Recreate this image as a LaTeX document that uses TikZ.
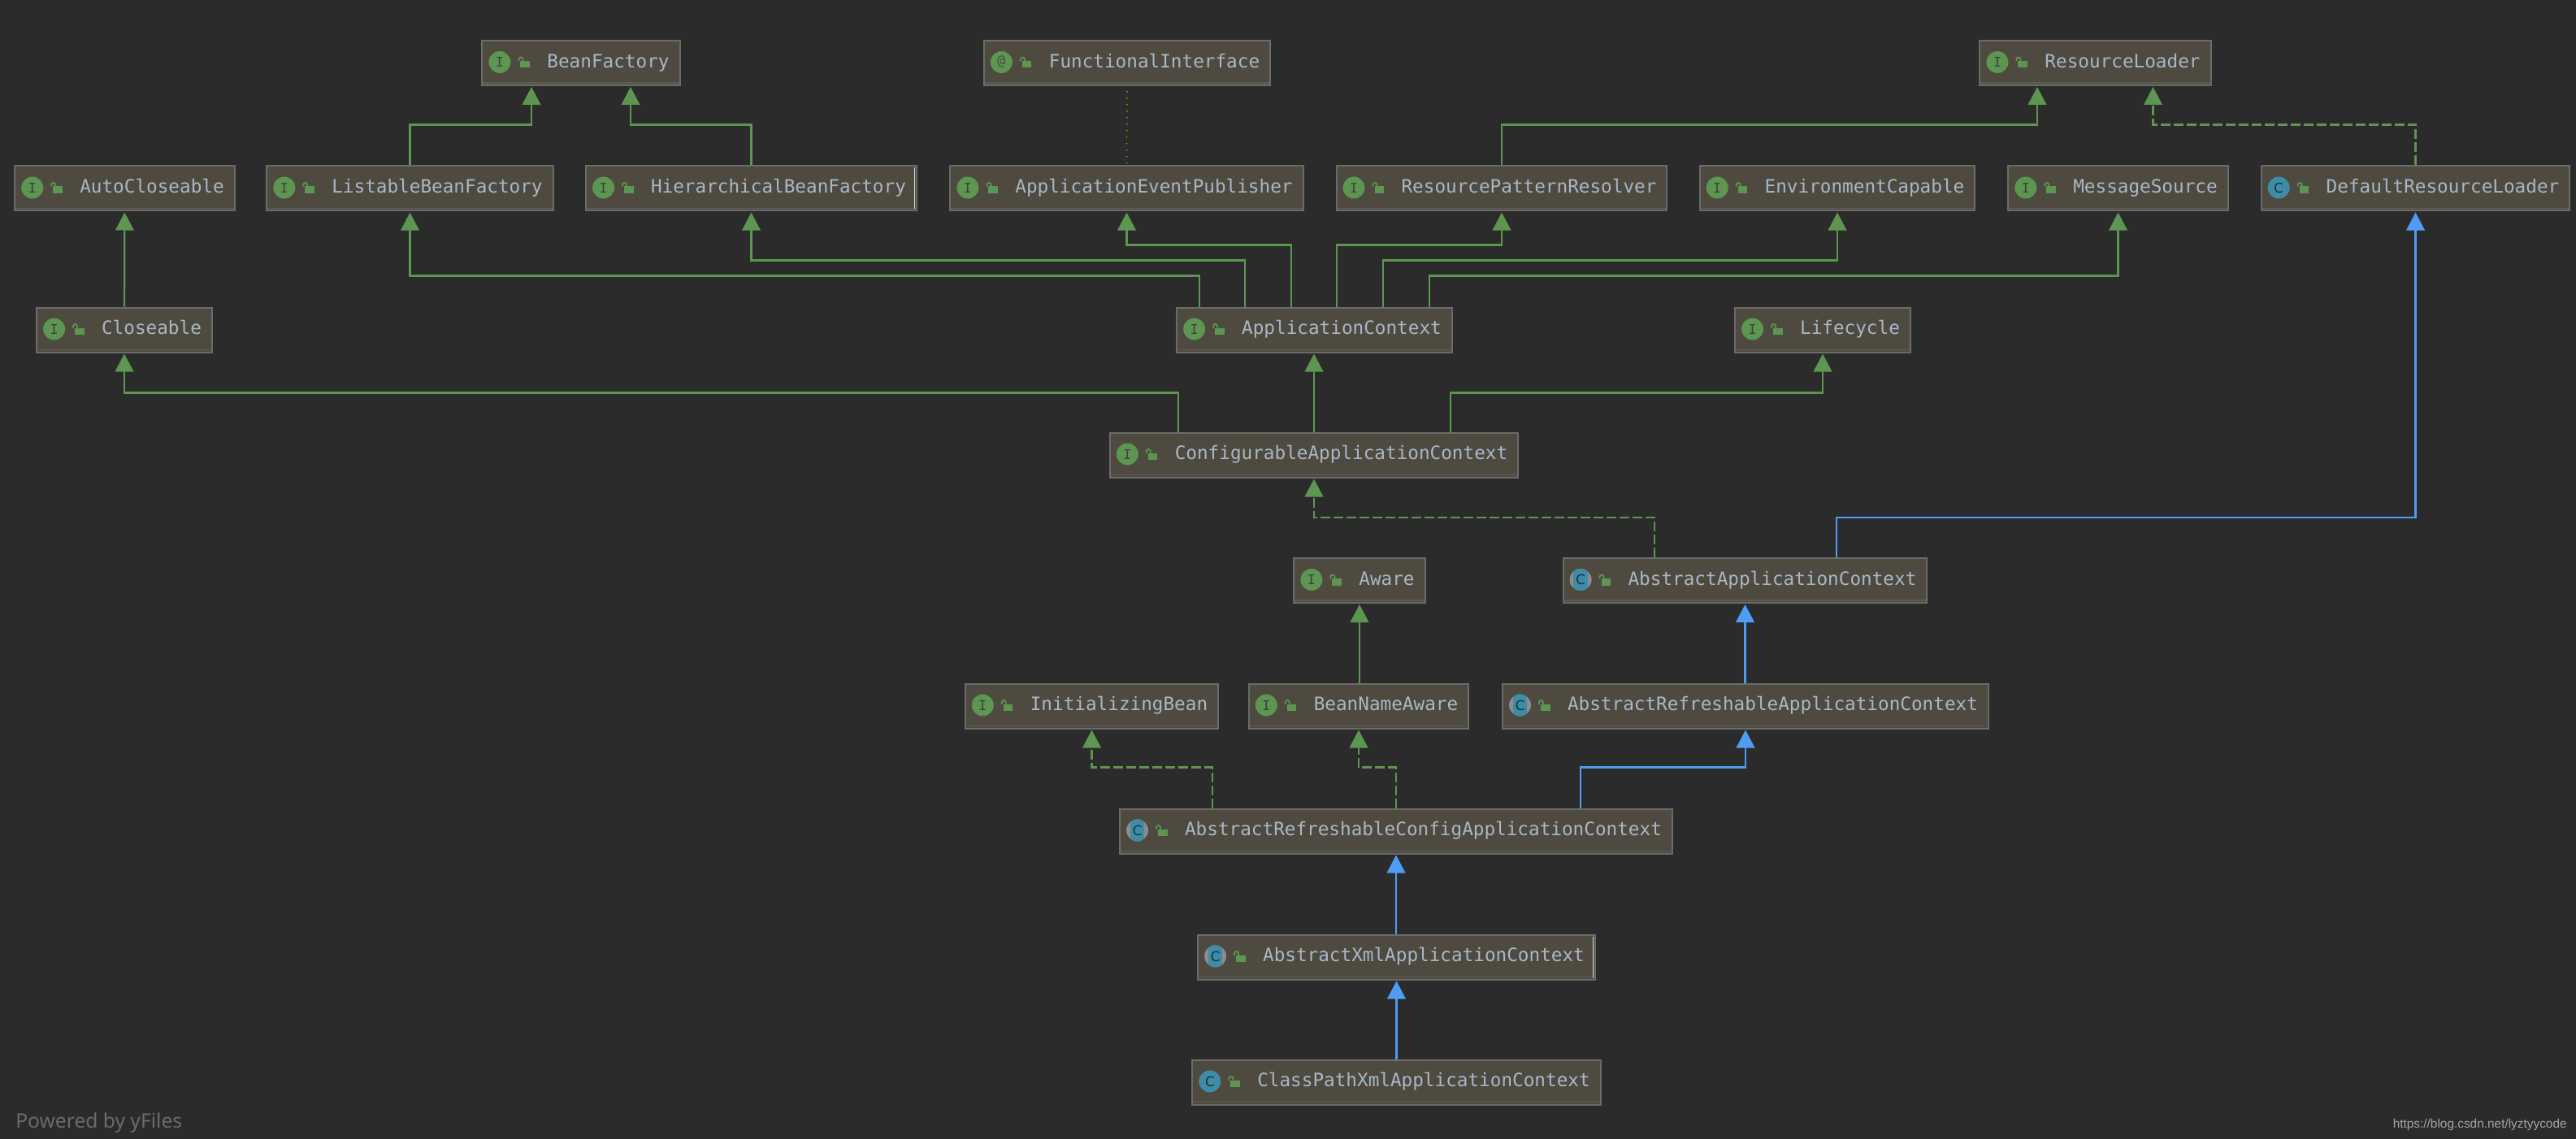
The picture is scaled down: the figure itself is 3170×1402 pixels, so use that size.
\documentclass[tikz,border=0pt]{standalone}
\usepackage{fontspec}
\newfontfamily\codefont{DejaVu Sans Mono}
\newfontfamily\markfont{DejaVu Sans}
\newfontfamily\footfont{Noto Sans}
\newfontfamily\urlfont{Liberation Sans}
\usetikzlibrary{arrows.meta}
\definecolor{canvas}{HTML}{2B2B2B}
\definecolor{boxfill}{HTML}{4E4A40}
\definecolor{boxline}{HTML}{6B6B6B}
\definecolor{boxband}{HTML}{5E5C57}
\definecolor{label}{HTML}{A9B7C6}
\definecolor{leaf}{HTML}{5C9650}
\definecolor{sky}{HTML}{4F9CF5}
\definecolor{teal}{HTML}{3F8CA8}
\definecolor{olive}{HTML}{969600}
\tikzset{
  x=0.2mm,y=-0.2mm,
  >={Triangle[length=4.4mm,width=4.5mm]},
  cls/.style={draw=boxline,fill=boxfill,line width=0.4mm,inner xsep=2.6mm,inner ysep=0pt,
    minimum height=11mm,text height=4mm,text depth=1.68mm,text=label,
    font=\codefont\fontsize{12.9pt}{15pt}\selectfont,
    execute at begin node={\hspace*{13.4mm}}},
  flow/.style={->,line width=0.44mm,draw=#1,shorten >=0.2mm},
  flow/.default=leaf,
  impl/.style={flow,dash pattern=on 2.4mm off 0.8mm},
  link/.style={draw=olive,line width=0.3mm,dash pattern=on 0.3mm off 1.3mm},
  % pictograms
  pics/lock/.style={code={
    \fill[leaf] (48,-2.5) rectangle (59.5,6);
    \draw[leaf,line width=0.36mm] (46,-2.5) -- (46,-4.5) arc[start angle=180,end angle=0,radius=0.5mm] -- (51,-2.5);
  }},
  pics/ifacemark/.style={code={
    \fill[leaf] (22.5,-1) circle (2.7mm);
    \node[inner sep=0pt,text=#1,font=\codefont\fontsize{9.4pt}{10pt}\selectfont] (-letter) at (22.5,-1) {I};
    \pic {lock};
  }},
  pics/ifacemark/.default=black!75,
  pics/annomark/.style={code={
    \fill[leaf] (22.5,-1) circle (2.7mm);
    \node[inner sep=0pt,text=black!70,font=\codefont\fontsize{9.8pt}{10pt}\selectfont] (-letter) at (22.5,-1.5) {@};
    \pic {lock};
  }},
  pics/classmark/.style={code={
    \fill[teal] (22.5,-1) circle (2.7mm);
    \node[inner sep=0pt,text=teal!35!black,font=\markfont\fontsize{9.4pt}{10pt}\selectfont] (-letter) at (22.5,-1) {C};
    \pic {lock};
  }},
  pics/absmark/.style={code={
    \fill[black!45] (22.5,-1) circle (2.7mm);
    \begin{scope}
      \clip (22.5,-1) circle (2.7mm);
      \fill[teal] (13.8,-15) rectangle (31.2,13);
    \end{scope}
    \node[inner sep=0pt,text=teal!35!black,font=\markfont\fontsize{9.4pt}{10pt}\selectfont] (-letter) at (22.5,-1) {C};
    \pic {lock};
  }},
}
\begin{document}
\begin{tikzpicture}
  \fill[canvas] (0,0) rectangle (3170,1402);
  % top rows
  \node[cls] (beanf) at (715,77.5) {BeanFactory};
  \node[cls] (funcif) at (1387,77.5) {FunctionalInterface};
  \node[cls] (resload) at (2578.5,77.5) {ResourceLoader};
  \node[cls] (autoclose) at (153.5,232) {AutoCloseable};
  \node[cls] (listb) at (504.5,232) {ListableBeanFactory};
  \node[cls] (hierb) at (924.5,232) {HierarchicalBeanFactory};
  \node[cls] (pub) at (1386.5,232) {ApplicationEventPublisher};
  \node[cls] (resolver) at (1848,232) {ResourcePatternResolver};
  \node[cls] (envcap) at (2261,232) {EnvironmentCapable};
  \node[cls] (msgsrc) at (2606.5,232) {MessageSource};
  \node[cls] (defload) at (2972.5,232) {DefaultResourceLoader};
  \node[cls] (closeable) at (153,406) {Closeable};
  \node[cls] (ctx) at (1617.5,406) {ApplicationContext};
  \node[cls] (lifecyc) at (2243,406) {Lifecycle};
  \node[cls] (confctx) at (1617,560) {ConfigurableApplicationContext};
  % lower rows
  \node[cls] (aware) at (1673,714.5) {Aware};
  \node[cls] (absctx) at (2147.5,714.5) {AbstractApplicationContext};
  \node[cls] (initb) at (1343.5,869) {InitializingBean};
  \node[cls] (beanaware) at (1672,869) {BeanNameAware};
  \node[cls] (absrefctx) at (2148,869) {AbstractRefreshableApplicationContext};
  \node[cls] (absrefcfg) at (1718,1023) {AbstractRefreshableConfigApplicationContext};
  \node[cls] (absxml) at (1718.5,1178) {AbstractXmlApplicationContext};
  \node[cls] (cpxml) at (1718.5,1332) {ClassPathXmlApplicationContext};
  % bottom band and badges
  \foreach \n in {beanf,funcif,resload,autoclose,listb,hierb,pub,resolver,envcap,msgsrc,defload,closeable,
    ctx,lifecyc,confctx,aware,absctx,initb,beanaware,absrefctx,absrefcfg,absxml,cpxml}
    \draw[boxband,line width=0.3mm] ([shift={(2,-4)}]\n.south west) -- ([shift={(-2,-4)}]\n.south east);
  \foreach \n in {beanf,resload,autoclose,listb,hierb,pub,resolver,envcap,msgsrc,closeable,ctx,lifecyc,
    confctx,aware,initb,beanaware}
    \pic (\n-mark) at (\n.west) {ifacemark};
  \pic (funcif-mark) at (funcif.west) {annomark};
  \foreach \n in {defload,cpxml} \pic (\n-mark) at (\n.west) {classmark};
  \foreach \n in {absctx,absrefctx,absrefcfg,absxml} \pic (\n-mark) at (\n.west) {absmark};
  \foreach \n in {hierb,absxml}
    \draw[white!85!black,line width=0.2mm] ([shift={(-3,3)}]\n.north east) -- ([shift={(-3,-3)}]\n.south east);
  % green links
  \draw[flow] (closeable) -- (autoclose);
  \draw[flow] (listb.north) -- ++(0,-50) -| ([shift={(-61,0)}]beanf.south);
  \draw[flow] (hierb.north) -- ++(0,-50) -| ([shift={(61,0)}]beanf.south);
  \draw[flow] (resolver.north) -- ++(0,-50) -| ([shift={(-71.5,0)}]resload.south);
  \draw[impl] (defload.north) -- ++(0,-50) -| ([shift={(71,0)}]resload.south);
  \draw[link] ([yshift=-1.2mm]funcif.south) -- (pub.north);
  \draw[flow] ([shift={(-141.5,0)}]ctx.north) -- ++(0,-38) -| (listb.south);
  \draw[flow] ([shift={(-85.5,0)}]ctx.north) -- ++(0,-57) -| (hierb.south);
  \draw[flow] ([shift={(-28.5,0)}]ctx.north) -- ++(0,-76) -| (pub.south);
  \draw[flow] ([shift={(27.5,0)}]ctx.north) -- ++(0,-76) -| (resolver.south);
  \draw[flow] ([shift={(84.5,0)}]ctx.north) -- ++(0,-57) -| (envcap.south);
  \draw[flow] ([shift={(141.5,0)}]ctx.north) -- ++(0,-38) -| (msgsrc.south);
  \draw[flow] (confctx.north) -- (ctx.south -| confctx.north);
  \draw[flow] ([shift={(-167,0)}]confctx.north) -- ++(0,-48) -| (closeable.south);
  \draw[flow] ([shift={(168,0)}]confctx.north) -- ++(0,-48) -| (lifecyc.south);
  \draw[impl] ([shift={(-111.5,0)}]absctx.north) -- ++(0,-49) -| (confctx.south);
  \draw[flow] (beanaware.north -| aware.south) -- (aware.south);
  \draw[impl] ([shift={(-226,0)}]absrefcfg.north) -- ++(0,-50) -| (initb.south);
  \draw[impl] (absrefcfg.north) -- ++(0,-50) -| (beanaware.south);
  % blue links
  \draw[flow=sky] ([shift={(112.5,0)}]absctx.north) -- ++(0,-49) -| (defload.south);
  \draw[flow=sky] (absrefctx.north -| absctx.south) -- (absctx.south);
  \draw[flow=sky] ([shift={(227,0)}]absrefcfg.north) -- ++(0,-50) -| (absrefctx.south);
  \draw[flow=sky] (absxml.north -| absrefcfg.south) -- (absrefcfg.south);
  \draw[flow=sky] (cpxml.north -| absxml.south) -- (absxml.south);
  % footer texts
  \node[anchor=base west,inner sep=0pt,text=black!58!white,font=\footfont\fontsize{14pt}{16pt}\selectfont] (yfiles) at (19,1388) {Powered by yFiles};
  \node[anchor=base east,inner sep=0pt,text=black!35!white,font=\urlfont\fontsize{8.76pt}{10pt}\selectfont] (blogurl) at (3159,1388) {https://blog.csdn.net/lyztyycode};
\end{tikzpicture}
\end{document}
